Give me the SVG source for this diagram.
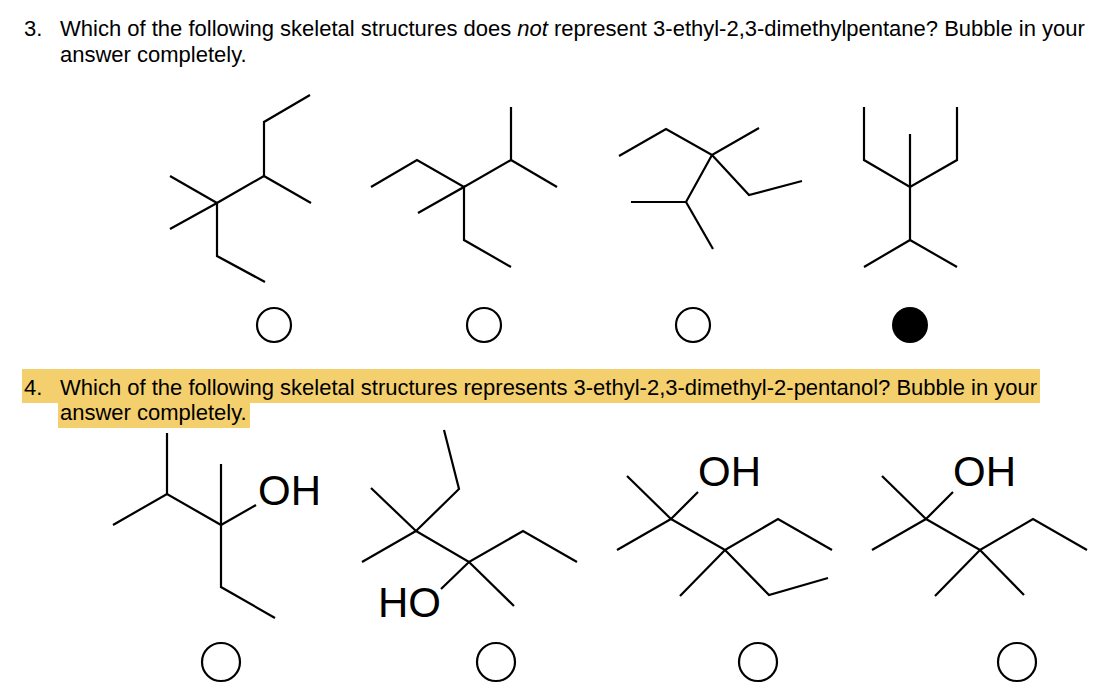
<svg xmlns="http://www.w3.org/2000/svg" width="1114" height="700" viewBox="0 0 1114 700">
<style>
text{font-family:"Liberation Sans",Arial,sans-serif;fill:#000}
.q{font-size:22px}
.l{font-size:42px}
.b{fill:none;stroke:#000;stroke-width:2.2}
.c{fill:#fff;stroke:#000;stroke-width:2.2}
</style>
<rect width="1114" height="700" fill="#fff"/>
<g id="highlight" fill="#f4cf6d"><rect x="22" y="369" width="1018" height="34"/><rect x="58" y="403" width="192" height="25"/></g>
<g id="q3"><text class="q" x="24" y="36">3.</text><text class="q" x="60" y="36">Which of the following skeletal structures does <tspan font-style="italic">not</tspan> represent 3-ethyl-2,3-dimethylpentane? Bubble in your</text><text class="q" x="60" y="62">answer completely.</text></g>
<g id="q4"><text class="q" x="24" y="395">4.</text><text class="q" x="60" y="395">Which of the following skeletal structures represents 3-ethyl-2,3-dimethyl-2-pentanol? Bubble in your</text><text class="q" x="60" y="420">answer completely.</text></g>
<g id="connectors">
<polyline class="b" points="310,95 264,122 264,176 311,203"/><polyline class="b" points="264,176 217,203 217,256 265,282"/><line class="b" x1="170" y1="176" x2="217" y2="203"/><line class="b" x1="170" y1="229" x2="217" y2="203"/>
<polyline class="b" points="371,187 417,160 464,187 511,160 511,107"/><line class="b" x1="511" y1="160" x2="557" y2="187"/><polyline class="b" points="418,213 464,187 464,240 511,267"/>
<polyline class="b" points="619,156 666,129 712,155 759,128"/><polyline class="b" points="712,155 749,195 802,181"/><polyline class="b" points="712,155 686,202 631,202"/><line class="b" x1="686" y1="202" x2="713" y2="249"/>
<polyline class="b" points="864,107 864,160 910,187 957,160 957,107"/><polyline class="b" points="910,134 910,240 864,267"/><line class="b" x1="910" y1="240" x2="957" y2="267"/>
<polyline class="b" points="113,525 167,494 221,525 221,587 275,618"/><line class="b" x1="167" y1="433" x2="167" y2="494"/><line class="b" x1="221" y1="464" x2="221" y2="525"/><line class="b" x1="221" y1="525" x2="256" y2="505"/>
<polyline class="b" points="444,430 459,489 416,531 469,562 523,531 577,562"/><line class="b" x1="371" y1="488" x2="416" y2="531"/><line class="b" x1="362" y1="562" x2="416" y2="531"/><line class="b" x1="469" y1="562" x2="514" y2="606"/><line class="b" x1="469" y1="562" x2="441" y2="589"/>
<line class="b" x1="627" y1="476" x2="671" y2="519"/><line class="b" x1="617" y1="550" x2="671" y2="519"/><line class="b" x1="671" y1="519" x2="698" y2="492"/><polyline class="b" points="671,519 725,550 778,519 832,550"/><line class="b" x1="725" y1="550" x2="680" y2="596"/><polyline class="b" points="725,550 769,595 828,578"/>
<line class="b" x1="882" y1="476" x2="926" y2="519"/><line class="b" x1="872" y1="550" x2="926" y2="519"/><line class="b" x1="926" y1="519" x2="953" y2="492"/><polyline class="b" points="926,519 980,550 1033,519 1087,550"/><line class="b" x1="980" y1="550" x2="935" y2="596"/><line class="b" x1="980" y1="550" x2="1024" y2="595"/>
</g>
<g id="labels"><text class="l" x="258" y="505">OH</text><text class="l" x="378" y="617">HO</text><text class="l" x="698" y="486">OH</text><text class="l" x="953" y="486">OH</text></g>
<g id="bubbles">
<circle class="c" cx="274" cy="325" r="17"/><circle class="c" cx="484" cy="325" r="17"/><circle class="c" cx="693" cy="325" r="17"/><circle cx="910" cy="325" r="18" fill="#000"/>
<circle class="c" cx="221" cy="662" r="19"/><circle class="c" cx="496" cy="662" r="19"/><circle class="c" cx="758" cy="662" r="19"/><circle class="c" cx="1017" cy="662" r="19"/>
</g>
</svg>
